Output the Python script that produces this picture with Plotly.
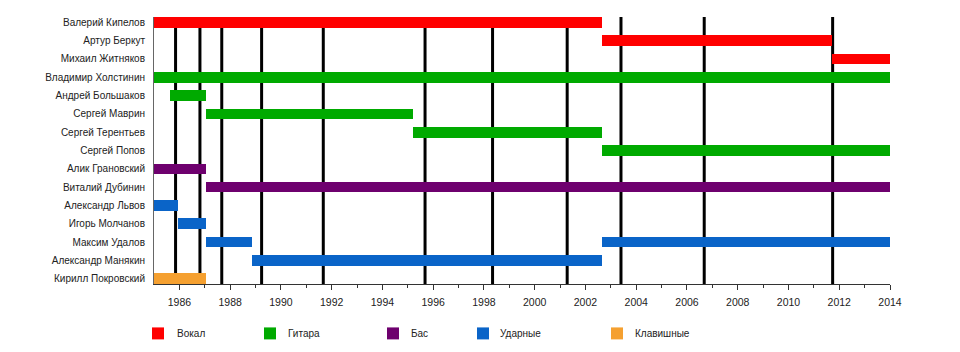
import plotly.graph_objects as go

# ---------------- data ----------------
members = [
    "Валерий Кипелов", "Артур Беркут", "Михаил Житняков", "Владимир Холстинин",
    "Андрей Большаков", "Сергей Маврин", "Сергей Терентьев", "Сергей Попов",
    "Алик Грановский", "Виталий Дубинин", "Александр Львов", "Игорь Молчанов",
    "Максим Удалов", "Александр Манякин", "Кирилл Покровский",
]

period_member = [
    "Валерий Кипелов", "Артур Беркут", "Михаил Житняков",
    "Владимир Холстинин", "Андрей Большаков", "Сергей Маврин",
    "Сергей Терентьев", "Сергей Попов",
    "Алик Грановский", "Виталий Дубинин",
    "Александр Львов", "Игорь Молчанов", "Максим Удалов",
    "Александр Манякин", "Максим Удалов",
    "Кирилл Покровский",
]
period_role = [
    "Вокал", "Вокал", "Вокал",
    "Гитара", "Гитара", "Гитара", "Гитара", "Гитара",
    "Бас", "Бас",
    "Ударные", "Ударные", "Ударные", "Ударные", "Ударные",
    "Клавишные",
]
period_start = [
    1985.0, 2002.66, 2011.70,
    1985.0, 1985.63, 1987.04, 1995.19, 2002.66,
    1985.0, 1987.04,
    1985.0, 1985.93, 1987.04, 1988.85, 2002.66,
    1985.0,
]
period_end = [
    2002.66, 2011.70, 2014.0,
    2014.0, 1987.04, 1995.19, 2002.66, 2014.0,
    1987.04, 2014.0,
    1985.93, 1987.04, 1988.85, 2002.66, 2014.0,
    1987.04,
]

album_years = [1985.85, 1986.81, 1987.67, 1989.24, 1991.67, 1995.68,
               1998.34, 2001.28, 2003.40, 2006.68, 2011.74]

roles = ["Вокал", "Гитара", "Бас", "Ударные", "Клавишные"]
role_colors = ["#FF0000", "#00AA00", "#6E006E", "#0A64C8", "#F5A030"]

x_range = [1985, 2014]
major_ticks = list(range(1986, 2015, 2))
minor_ticks = list(range(1987, 2014, 2))

# ---------------- figure ----------------
FONT = "Liberation Sans, Arial, sans-serif"
W, H = 960, 352
L, R, T, B = 154, 70, 17, 67.5
pw, ph = W - L - R, H - T - B

fig = go.Figure()

row_index = {m: i for i, m in enumerate(members)}
for role, color in zip(roles, role_colors):
    idx = [k for k, r in enumerate(period_role) if r == role]
    fig.add_trace(go.Bar(
        orientation="h",
        y=[row_index[period_member[k]] for k in idx],
        base=[period_start[k] for k in idx],
        x=[period_end[k] - period_start[k] for k in idx],
        marker=dict(color=color, line=dict(width=0)),
        width=0.58,
        name=role,
        showlegend=False,
        hovertemplate="%{base:.1f}–%{x:.1f}<extra>" + role + "</extra>",
    ))

for yr in album_years:
    fig.add_shape(type="line", xref="x", yref="paper", x0=yr, x1=yr, y0=0, y1=1,
                  line=dict(color="black", width=3), layer="below")

# custom legend
legend_sq_px = [152, 264, 387, 477, 611]
legend_lbl_px = [175, 286, 409, 498, 633]
sq = 12
sq_top_px = 328
for role, color, sx, lx in zip(roles, role_colors, legend_sq_px, legend_lbl_px):
    fig.add_shape(type="rect", xref="paper", yref="paper",
                  x0=(sx - L) / pw, x1=(sx + sq - L) / pw,
                  y0=(H - B - sq_top_px) / ph, y1=(H - B - sq_top_px - sq) / ph,
                  fillcolor=color, line=dict(width=0))
    fig.add_annotation(xref="paper", yref="paper", x=(lx - L) / pw,
                       y=(H - B - (sq_top_px + sq / 2)) / ph,
                       text=role, showarrow=False, xanchor="left", yanchor="middle",
                       font=dict(family=FONT, size=10, color="#222"))

fig.update_layout(
    width=W, height=H,
    margin=dict(l=L, r=R, t=T, b=B, pad=0),
    plot_bgcolor="white", paper_bgcolor="white",
    barmode="overlay",
    bargap=0,
    font=dict(family=FONT, size=10, color="#222"),
    showlegend=False,
)
fig.update_xaxes(
    range=x_range,
    tickmode="array", tickvals=major_ticks,
    ticks="outside", ticklen=5, tickwidth=1, tickcolor="#333",
    ticklabelstandoff=3,
    showline=True, linecolor="#333", linewidth=1,
    showgrid=False, zeroline=False,
    minor=dict(tickmode="array", tickvals=minor_ticks, ticks="outside",
               ticklen=3, tickcolor="#333", showgrid=False),
    tickfont=dict(family=FONT, size=10.5, color="#222"),
)
fig.update_yaxes(
    range=[len(members) - 1 + 0.29, -0.29],
    tickmode="array", tickvals=list(range(len(members))), ticktext=members,
    ticks="outside", ticklen=6, tickcolor="rgba(0,0,0,0)",
    showline=True, linecolor="#666", linewidth=1,
    showgrid=False, zeroline=False,
    tickfont=dict(family=FONT, size=10, color="#222"),
)

fig.write_html("out.html")
